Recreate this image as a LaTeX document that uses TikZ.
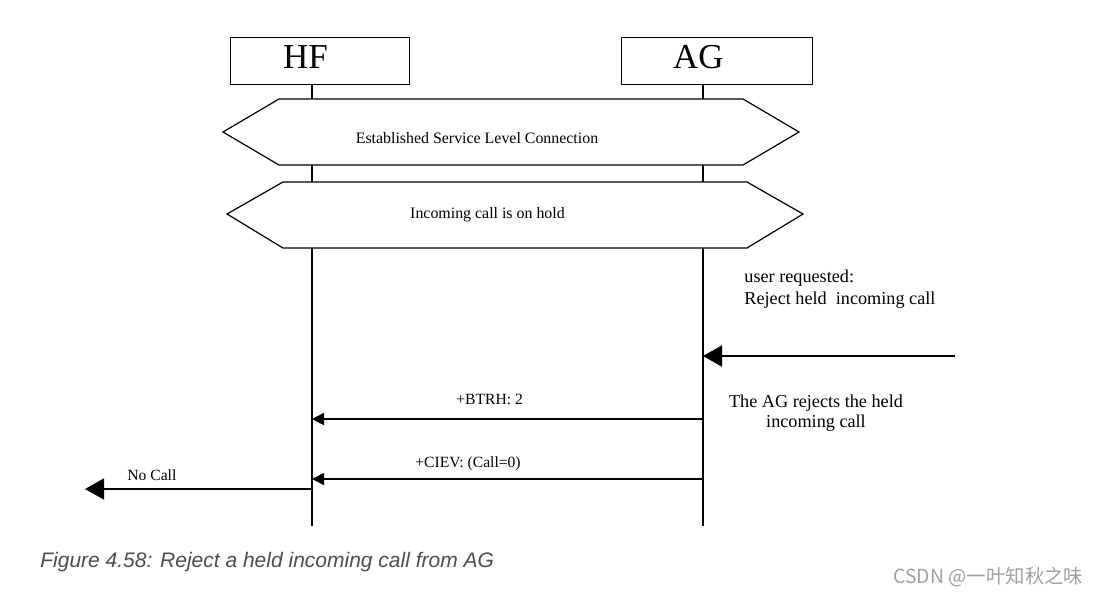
\documentclass[tikz,border=0pt]{standalone}
\usepackage{fontspec}
\setmainfont{Liberation Serif}
\newfontfamily\capfont{Liberation Sans}
\newfontfamily\cjkfont{Noto Sans CJK SC}
\usetikzlibrary{arrows.meta}

\definecolor{capgray}{RGB}{77,77,77}
\definecolor{markgray}{RGB}{160,160,160}

\tikzset{
  entity/.style={draw,line width=.5pt,inner sep=0pt,outer sep=0pt,minimum height=23.5pt},
  lifeline/.style={line width=.65pt},
  hexbox/.style={draw,line width=.6pt,fill=white},
  msgarrow/.style={line width=.85pt,-{Triangle[length=6pt,width=6pt]}},
  bigarrow/.style={line width=.85pt,-{Triangle[length=9.5pt,width=10.5pt]}},
  msglabel/.style={anchor=base west,inner sep=0pt,font=\fontsize{7.8}{10}\selectfont},
  notelabel/.style={inner sep=0pt,font=\fontsize{9.1}{11}\selectfont}
}

\begin{document}
\begin{tikzpicture}[x=.5pt,y=-.5pt]
\useasboundingbox (0,0) rectangle (1100,596);
% entities
\node[entity,minimum width=89.5pt] (hf) at (319.5,60.5) {};
\node[entity,minimum width=95.5pt] (ag) at (716.5,60.5) {};
\node[anchor=base,inner sep=0pt,font=\fontsize{17.5}{20}\selectfont] (hftext) at (305.5,68) {HF};
\node[anchor=base,inner sep=0pt,font=\fontsize{17.5}{20}\selectfont] (agtext) at (698.5,68) {AG};
% lifelines
\coordinate (hftop) at (312,84);
\coordinate (hfend) at (312,526);
\coordinate (agtop) at (703,84);
\coordinate (agend) at (703,526);
\draw[lifeline] (hftop) -- (hfend);
\draw[lifeline] (agtop) -- (agend);
% common states
\draw[hexbox] (223,132) -- (279,99) -- (743,99) -- (799,132) -- (743,165) -- (279,165) -- cycle;
\node[anchor=base,inner sep=0pt,font=\fontsize{7.95}{10}\selectfont] (slc) at (477,143) {Established Service Level Connection};
\draw[hexbox] (227,214) -- (283,182) -- (747,182) -- (803,214) -- (747,248) -- (283,248) -- cycle;
\node[anchor=base,inner sep=0pt,font=\fontsize{7.95}{10}\selectfont] (hold) at (487.5,218) {Incoming call is on hold};
% user action
\node[notelabel,anchor=base west] (user1) at (744,282) {user requested:};
\node[notelabel,anchor=base west] (user2) at (744,304) {Reject held\ \ incoming call};
\coordinate (userin) at (955,356);
\coordinate (userag) at (703,356);
\draw[bigarrow] (userin) -- (userag);
% messages
\coordinate (btrhag) at (703,419);
\coordinate (btrhhf) at (312,419);
\draw[msgarrow] (btrhag) -- (btrhhf);
\node[msglabel] (btrh) at (456,404) {+BTRH: 2};
\node[notelabel,anchor=base] (rej1) at (816,407) {The AG rejects the held};
\node[notelabel,anchor=base] (rej2) at (816,427) {incoming call};
\coordinate (ciefag) at (703,479);
\coordinate (ciefhf) at (312,479);
\draw[msgarrow] (ciefag) -- (ciefhf);
\node[msglabel] (ciev) at (415,467) {+CIEV: (Call=0)};
\coordinate (nocallhf) at (312,489);
\coordinate (nocallout) at (85,489);
\draw[bigarrow] (nocallhf) -- (nocallout);
\node[msglabel] (nocall) at (127,480) {No Call};
% caption
\node[anchor=base west,inner sep=0pt,text=capgray,font=\capfont\itshape\fontsize{10.5}{12}\selectfont] (caption) at (40,567) {Figure 4.58: Reject a held incoming call from AG};
\node[anchor=base west,inner sep=0pt,text=markgray,font=\cjkfont\fontsize{9.7}{11}\selectfont] (mark) at (893,583) {CSDN @一叶知秋之味};
\end{tikzpicture}
\end{document}
